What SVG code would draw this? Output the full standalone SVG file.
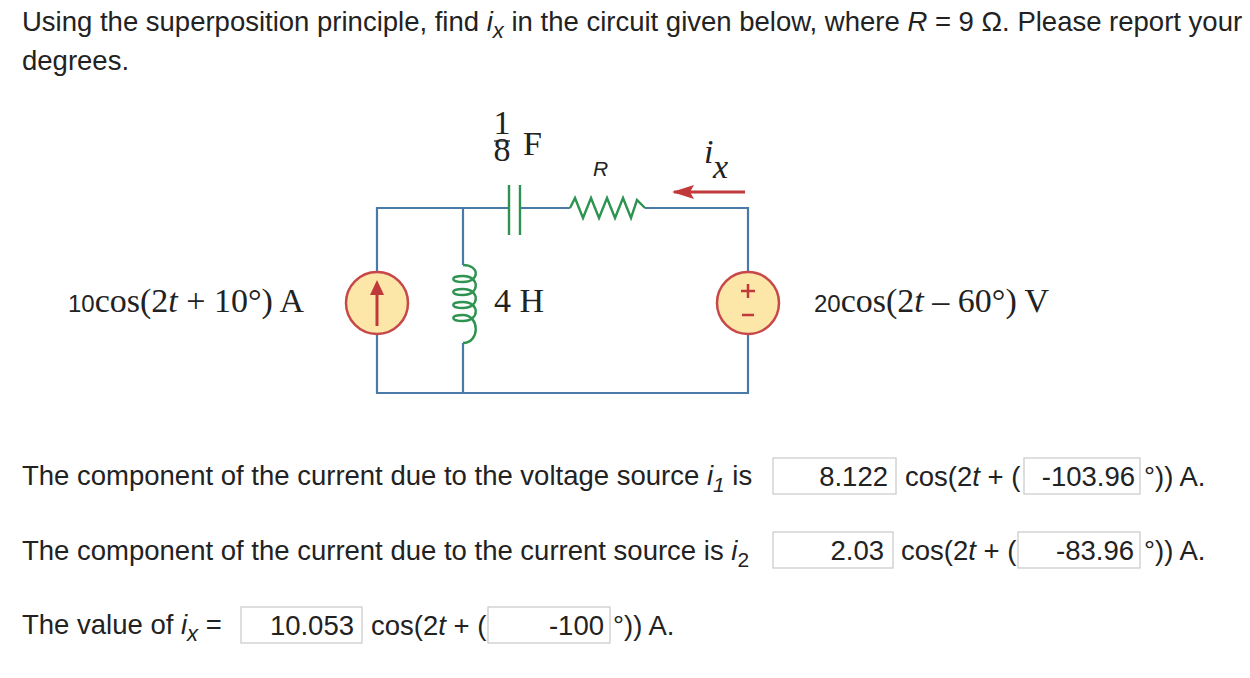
<svg xmlns="http://www.w3.org/2000/svg" width="1250" height="678" viewBox="0 0 1250 678">
<style>
.t{font-family:"Liberation Sans",Arial,sans-serif;font-size:27.5px;fill:#222}
.s{font-family:"Liberation Serif","Times New Roman",serif;font-size:34px;fill:#222}
.w{stroke:#4a7aa8;stroke-width:2.2;fill:none}
.g{stroke:#2e9350;stroke-width:2.4;fill:none}
.src{fill:#fde7a8;stroke:#c8484a;stroke-width:2.5}
.box{fill:#fff;stroke:#c8c8c8;stroke-width:1.2}
</style>
<defs><marker id="ah" markerWidth="22" markerHeight="14" refX="20" refY="7" orient="auto" markerUnits="userSpaceOnUse"><path d="M0,0L22,7L0,14L4,7z" fill="#c0393b"/></marker></defs>
<rect width="1250" height="678" fill="#fff"/>
<text class="t" x="22" y="31">Using the superposition principle, find <tspan font-style="italic">i</tspan><tspan font-style="italic" dy="7" font-size="22">x</tspan><tspan dy="-7"> in the circuit given below, where </tspan><tspan font-style="italic">R</tspan> = 9 Ω. Please report your</text>
<text class="t" x="22" y="70">degrees.</text>
<g id="connectors">
<path class="w" d="M377,272V208H509M520,208H570M645,208H748V272M748,334V393H377V334M463,208V265M463,343V393"/>
</g>
<g id="capacitor"><path class="g" d="M509,185V235M520,185V235"/>
<text class="s" x="502" y="134" font-size="16" text-anchor="middle">1</text><line x1="494" y1="141" x2="510" y2="141" stroke="#222" stroke-width="1.3"/><text class="s" x="502" y="161" font-size="16" text-anchor="middle">8</text><text class="s" x="523" y="155" font-size="30">F</text></g>
<g id="resistor"><path class="g" d="M570,208L575,198L583,218L591,198L599,218L607,198L615,218L623,198L631,218L637,200L645,208"/>
<text x="593" y="176" font-family="Liberation Sans,Arial,sans-serif" font-style="italic" font-size="21" fill="#222">R</text></g>
<g id="ix"><line x1="745" y1="192" x2="674" y2="192" stroke="#c0393b" stroke-width="3" marker-end="url(#ah)"/>
<text class="s" x="704" y="163" font-style="italic" font-size="28">i</text><text class="s" x="713" y="178" font-style="italic" font-size="24">x</text></g>
<g id="inductor"><path class="g" d="M463,265C480,265 480,282 463,282C450,282 450,276 463,276C480,276 480,295 463,295C450,295 450,289 463,289C480,289 480,308 463,308C450,308 450,302 463,302C480,302 480,321 463,321C450,321 450,315 463,315C480,315 480,343 463,343"/>
<text class="s" x="494" y="312">4 H</text></g>
<g id="isource"><circle class="src" cx="377" cy="303" r="31"/><line x1="377" y1="326" x2="377" y2="292" stroke="#c0393b" stroke-width="3"/><path d="M377,280L370,295H384z" fill="#c0393b"/>
<text class="s" x="68" y="312"><tspan font-family="Liberation Sans,Arial,sans-serif" font-size="24">10</tspan>cos(2<tspan font-style="italic">t</tspan> + 10°) A</text></g>
<g id="vsource"><circle class="src" cx="748" cy="303" r="31"/><path d="M741,291H755M748,284V298M742,315H754" stroke="#c0393b" stroke-width="2.5"/>
<text class="s" x="814" y="312"><tspan font-family="Liberation Sans,Arial,sans-serif" font-size="24">20</tspan>cos(2<tspan font-style="italic">t</tspan> – 60°) V</text></g>
<g id="answers">
<text class="t" x="22" y="485">The component of the current due to the voltage source <tspan font-style="italic">i</tspan><tspan font-style="italic" dy="7" font-size="21">1</tspan><tspan dy="-7"> is</tspan></text>
<rect class="box" x="773" y="458" width="123" height="36"/><text class="t" x="888" y="486" text-anchor="end">8.122</text>
<text class="t" x="905" y="486">cos(2<tspan font-style="italic">t</tspan> + (</text>
<rect class="box" x="1024" y="458" width="116" height="36"/><text class="t" x="1135" y="486" text-anchor="end">-103.96</text>
<text class="t" x="1144" y="486">°)) A.</text>
<text class="t" x="22" y="560">The component of the current due to the current source is <tspan font-style="italic">i</tspan><tspan dy="7" font-size="21">2</tspan></text>
<rect class="box" x="773" y="532" width="120" height="36"/><text class="t" x="884" y="560" text-anchor="end">2.03</text>
<text class="t" x="901" y="560">cos(2<tspan font-style="italic">t</tspan> + (</text>
<rect class="box" x="1018" y="532" width="122" height="36"/><text class="t" x="1134" y="560" text-anchor="end">-83.96</text>
<text class="t" x="1144" y="560">°)) A.</text>
<text class="t" x="22" y="634">The value of  <tspan font-style="italic">i</tspan><tspan font-style="italic" dy="7" font-size="22">x</tspan><tspan dy="-7"> =</tspan></text>
<rect class="box" x="241" y="607" width="121" height="36"/><text class="t" x="354" y="635" text-anchor="end">10.053</text>
<text class="t" x="371" y="635">cos(2<tspan font-style="italic">t</tspan> + (</text>
<rect class="box" x="488" y="607" width="122" height="36"/><text class="t" x="604" y="635" text-anchor="end">-100</text>
<text class="t" x="613" y="635">°)) A.</text>
</g>
</svg>
